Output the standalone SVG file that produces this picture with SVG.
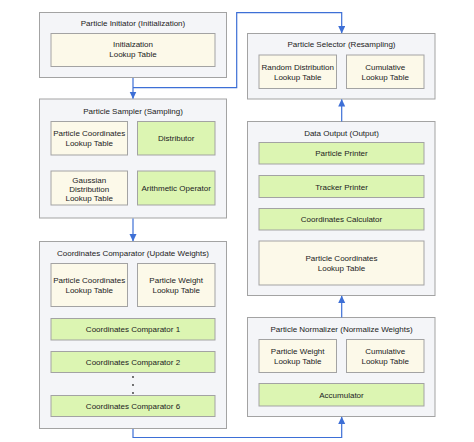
<svg xmlns="http://www.w3.org/2000/svg" width="474" height="442" viewBox="0 0 474 442">
<style>
.outer{fill:#f4f5f8;stroke:#a3a3a3;stroke-width:1}
.lut{fill:#fcf9e9;stroke:#a3a3a3;stroke-width:1}
.fu{fill:#dcf5b2;stroke:#a3a3a3;stroke-width:1}
text{font-family:"Liberation Sans",Arial,sans-serif;font-size:8px;fill:#222;text-anchor:middle}
.conn{fill:none;stroke:#3d6fd6;stroke-width:1.2}
</style>
<defs>
<marker id="ah" markerUnits="userSpaceOnUse" markerWidth="8" markerHeight="8" refX="7" refY="3.5" orient="auto">
<path d="M0,0 L7.5,3.5 L0,7 Z" fill="#3d6fd6"/>
</marker>
</defs>
<rect width="474" height="442" fill="#ffffff"/>
<g id="initiator">
<rect class="outer" x="39.5" y="12.5" width="187" height="65"/>
<text x="133" y="25.5">Particle Initiator (Initialization)</text>
<rect class="lut" x="51" y="33.5" width="164" height="33"/>
<text x="133" y="47">Initialzation</text>
<text x="133" y="57">Lookup Table</text>
</g>
<g id="sampler">
<rect class="outer" x="39.5" y="99" width="187" height="119"/>
<text x="133" y="113.5">Particle Sampler (Sampling)</text>
<rect class="lut" x="51" y="121.5" width="76.5" height="33.5"/>
<text x="89.2" y="136">Particle Coordinates</text>
<text x="89.2" y="146">Lookup Table</text>
<rect class="fu" x="137.5" y="121.5" width="77.5" height="33.5"/>
<text x="176.2" y="141">Distributor</text>
<rect class="lut" x="51" y="171" width="76.5" height="34"/>
<text x="89.2" y="183">Gaussian</text>
<text x="89.2" y="192">Distribution</text>
<text x="89.2" y="201">Lookup Table</text>
<rect class="fu" x="137.5" y="171" width="77.5" height="34"/>
<text x="176.2" y="191">Arithmetic Operator</text>
</g>
<g id="comparator">
<rect class="outer" x="39.5" y="241.5" width="187" height="187"/>
<text x="133" y="256">Coordinates Comparator (Update Weights)</text>
<rect class="lut" x="51" y="263.5" width="76.5" height="43"/>
<text x="89.2" y="283">Particle Coordinates</text>
<text x="89.2" y="293">Lookup Table</text>
<rect class="lut" x="137.5" y="263.5" width="77.5" height="43"/>
<text x="176.2" y="283">Particle Weight</text>
<text x="176.2" y="293">Lookup Table</text>
<rect class="fu" x="51" y="318.5" width="164" height="21.5"/>
<text x="133" y="332">Coordinates Comparator 1</text>
<rect class="fu" x="51" y="351.5" width="164" height="21"/>
<text x="133" y="365">Coordinates Comparator 2</text>
<circle cx="133" cy="377" r="0.9" fill="#333"/>
<circle cx="133" cy="385" r="0.9" fill="#333"/>
<circle cx="133" cy="393" r="0.9" fill="#333"/>
<rect class="fu" x="51" y="395.5" width="164" height="21"/>
<text x="133" y="409">Coordinates Comparator 6</text>
</g>
<g id="selector">
<rect class="outer" x="247.5" y="33.5" width="187.5" height="65.5"/>
<text x="341.5" y="47">Particle Selector (Resampling)</text>
<rect class="lut" x="259" y="55" width="77.5" height="33.5"/>
<text x="297.7" y="69.5">Random Distribution</text>
<text x="297.7" y="79.5">Lookup Table</text>
<rect class="lut" x="346.5" y="55" width="77.5" height="33.5"/>
<text x="385.2" y="69.5">Cumulative</text>
<text x="385.2" y="79.5">Lookup Table</text>
</g>
<g id="output">
<rect class="outer" x="247.5" y="121.5" width="187.5" height="174"/>
<text x="341.5" y="136">Data Output (Output)</text>
<rect class="fu" x="259" y="142.5" width="165" height="21.5"/>
<text x="341.5" y="156">Particle Printer</text>
<rect class="fu" x="259" y="175.5" width="165" height="22"/>
<text x="341.5" y="189.5">Tracker Printer</text>
<rect class="fu" x="259" y="208.5" width="165" height="21.5"/>
<text x="341.5" y="222">Coordinates Calculator</text>
<rect class="lut" x="259" y="241" width="165" height="44"/>
<text x="341.5" y="260.5">Particle Coordinates</text>
<text x="341.5" y="270.5">Lookup Table</text>
</g>
<g id="normalizer">
<rect class="outer" x="247.5" y="317.5" width="187.5" height="99"/>
<text x="341.5" y="332">Particle Normalizer (Normalize Weights)</text>
<rect class="lut" x="259" y="339.5" width="77.5" height="33"/>
<text x="297.7" y="353.5">Particle Weight</text>
<text x="297.7" y="363.5">Lookup Table</text>
<rect class="lut" x="346.5" y="339.5" width="77.5" height="33"/>
<text x="385.2" y="353.5">Cumulative</text>
<text x="385.2" y="363.5">Lookup Table</text>
<rect class="fu" x="259" y="383.5" width="165" height="22.5"/>
<text x="341.5" y="397.5">Accumulator</text>
</g>
<g id="connectors">
<path class="conn" d="M133,78 V98.5" marker-end="url(#ah)"/>
<path class="conn" d="M133,87.7 H236.7 V12.7 H341.7 V33" marker-end="url(#ah)"/>
<path class="conn" d="M133,218.5 V241" marker-end="url(#ah)"/>
<path class="conn" d="M133,429 V437.5 H341.7 V417" marker-end="url(#ah)"/>
<path class="conn" d="M341.7,317.5 V296" marker-end="url(#ah)"/>
<path class="conn" d="M341.7,121.5 V99.5" marker-end="url(#ah)"/>
</g>
</svg>
